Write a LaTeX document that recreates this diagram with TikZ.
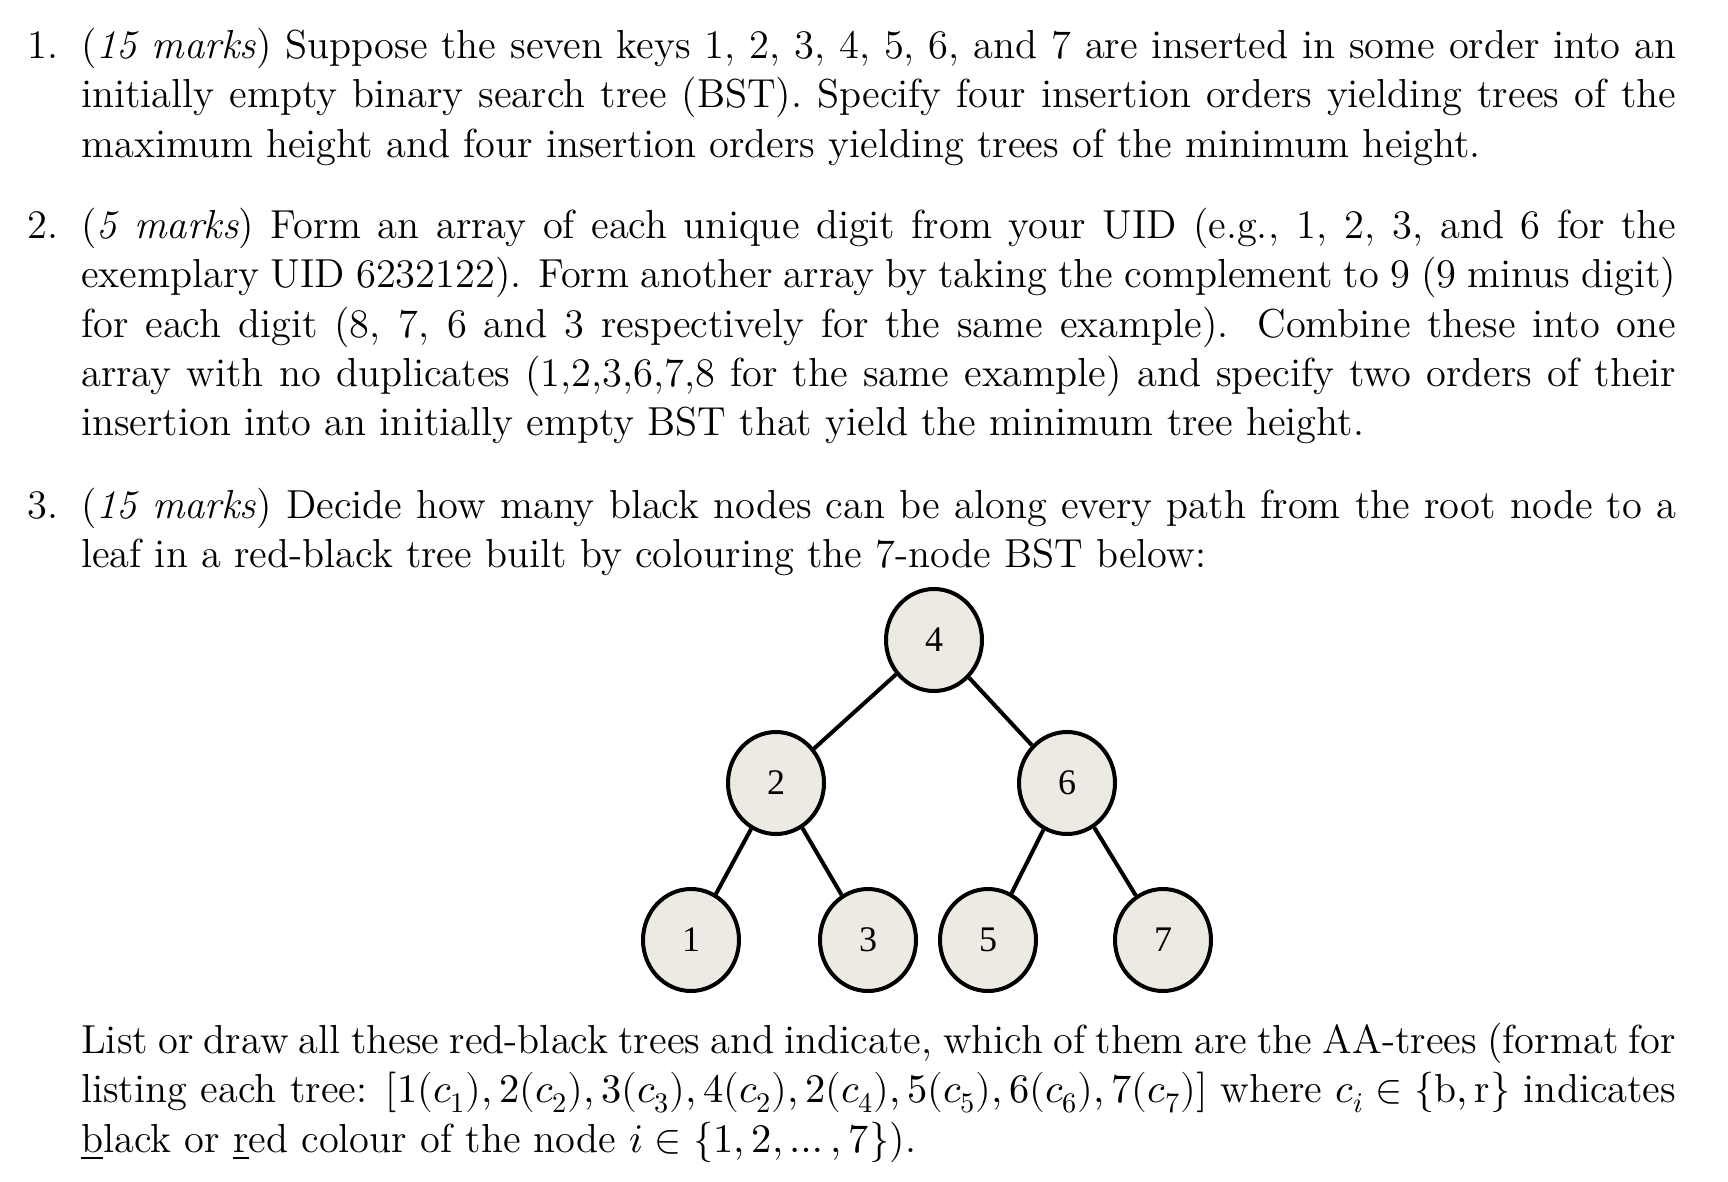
\documentclass[tikz,border=0pt]{standalone}
\usepackage{fontspec}
\usepackage{unicode-math}
\setmainfont{lmroman12-regular.otf}[ItalicFont=lmroman12-italic.otf,BoldFont=lmroman12-bold.otf]
\usetikzlibrary{shapes.geometric}
\newfontfamily\treefont{Liberation Serif}
\definecolor{nodefill}{HTML}{ECEAE2}
\newcommand{\itemnum}[1]{\makebox[0pt][r]{#1\hspace{23pt}}}
\begin{document}
\begin{tikzpicture}[x=1pt,y=-1pt,
  para/.style={anchor=north west,inner sep=0pt,text width=1595pt,align=justify,font=\fontsize{40.5}{49.3}\selectfont},
  bst/.style={ellipse,draw=black,line width=4pt,fill=nodefill,minimum width=96pt,minimum height=102pt,inner sep=0pt,font=\treefont\fontsize{36}{36}\selectfont},
  edge/.style={line width=4pt}]
\useasboundingbox (0,0) rectangle (1728,1182);
\node[para] (p1) at (81,28) {\itemnum{1.}(\textit{15 marks}) Suppose the seven keys 1, 2, 3, 4, 5, 6, and 7 are inserted in some order into an initially empty binary search tree (BST). Specify four insertion orders yielding trees of the maximum height and four insertion orders yielding trees of the minimum height.};
\node[para] (p2) at (81,208) {\itemnum{2.}(\textit{5 marks}) Form an array of each unique digit from your UID (e.g., 1, 2, 3, and 6 for the exemplary UID 6232122). Form another array by taking the complement to 9 (9 minus digit) for each digit (8, 7, 6 and 3 respectively for the same example). Combine these into one array with no duplicates (1,2,3,6,7,8 for the same example) and specify two orders of their insertion into an initially empty BST that yield the minimum tree height.};
\node[para] (p3) at (81,488) {\itemnum{3.}(\textit{15 marks}) Decide how many black nodes can be along every path from the root node to a leaf in a red-black tree built by colouring the 7-node BST below:};
\node[para] (p4) at (81,1023) {List or draw all these red-black trees and indicate, which of them are the AA-trees (format for listing each tree: $[1(c_1),2(c_2),3(c_3),4(c_2),2(c_4),5(c_5),6(c_6),7(c_7)]$ where $c_i\in\{\mathrm{b},\mathrm{r}\}$ indicates \underline{b}lack or \underline{r}ed colour of the node $i\in\{1,2,\ldots,7\}$).};
\node[bst] (t4) at (934,640) {4};
\node[bst] (t2) at (776,783) {2};
\node[bst] (t6) at (1067,783) {6};
\node[bst] (t1) at (691,940) {1};
\node[bst] (t3) at (868,940) {3};
\node[bst] (t5) at (988,940) {5};
\node[bst] (t7) at (1163,940) {7};
\draw[edge] (t4) -- (t2);
\draw[edge] (t4) -- (t6);
\draw[edge] (t2) -- (t1);
\draw[edge] (t2) -- (t3);
\draw[edge] (t6) -- (t5);
\draw[edge] (t6) -- (t7);
\end{tikzpicture}
\end{document}
